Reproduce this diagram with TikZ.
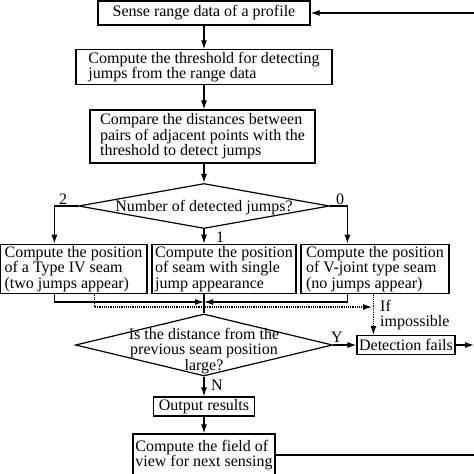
\documentclass[tikz,border=0pt]{standalone}
\usepackage{fontspec}
\setmainfont{Liberation Serif}
\usetikzlibrary{shapes,arrows.meta}
\newcommand{\flowfont}{\fontsize{16}{15.5}\selectfont}
\tikzset{
  proc/.style = {draw, line width=1.2pt, align=left, inner sep=2pt, font=\flowfont},
  decide/.style = {draw, diamond, line width=1.2pt, inner sep=0pt},
  flow/.style = {-{Latex[length=9pt,width=6pt]}, line width=1.2pt},
  maybe/.style = {flow, densely dotted},
  lab/.style = {font=\flowfont, inner sep=0pt}
}

\begin{document}
\begin{tikzpicture}[x=1pt,y=-1pt]
\useasboundingbox (0,0) rectangle (474,474);
\clip (0,0) rectangle (474,474);

\node[proc, align=center, minimum width=212, minimum height=24] (sense) at (204,13) {Sense range data of a profile};
\node[proc, minimum width=256, minimum height=34] (thr) at (204,67) {Compute the threshold for detecting\\jumps from the range data};
\node[proc, minimum width=225, minimum height=53] (cmp) at (202.5,136.5) {Compare the distances between\\pairs of adjacent points with the\\threshold to detect jumps};
\node[decide, minimum width=251, minimum height=45,
      label={[font=\flowfont, yshift=-2pt]center:Number of detected jumps?}] (jumps) at (204,206) {};

\node[proc, minimum width=147, minimum height=48] (two) at (73.5,269) {Compute the position\\of a Type IV seam\\(two jumps appear)};
\node[proc, minimum width=144, minimum height=48] (one) at (224,269) {Compute the position\\of seam with single\\jump appearance};
\node[proc, minimum width=148, minimum height=48] (none) at (375,269) {Compute the position\\of V-joint type seam\\(no jumps appear)};

\node[decide, minimum width=257, minimum height=62,
      label={[font=\flowfont, align=center, yshift=-6pt]center:Is the distance from the\\previous seam position\\large?}] (dist) at (204,345) {};
\node[proc, minimum width=98, minimum height=19] (fail) at (406,345) {Detection fails};
\node[proc, minimum width=101, minimum height=19] (out) at (204,406.5) {Output results};
\node[proc, minimum width=142, minimum height=42] (field) at (204,455) {Compute the field of\\view for next sensing};

\coordinate (merge) at (204,302);
\coordinate (iff) at (372,307);
\coordinate (back) at (474,13);
\coordinate (exit) at (474,345);
\coordinate (loop) at (474,455);

\node[lab] (n2) at (63,199) {2};
\node[lab] (n0) at (340,199) {0};
\node[lab] (n1) at (220,237) {1};
\node[lab, anchor=west] (ifa) at (380,306) {If};
\node[lab, anchor=west] (ifb) at (380,323) {impossible};
\node[lab] (ny) at (337,337) {Y};
\node[lab] (nn) at (217,385) {N};

\draw[flow] (back) -- (sense.east);
\draw[flow] (sense) -- (thr);
\draw[flow] (thr) -- (cmp.north -| thr.south);
\draw[flow] (cmp.south -| jumps.north) -- (jumps.north);
\draw[flow] (jumps.west) -| ([xshift=55pt]two.north west);
\draw[flow] (jumps.east) -| ([xshift=47pt]none.north west);
\draw[flow] (jumps.south) -- (one.north -| jumps.south);
\draw[flow] ([xshift=55pt]two.south west) |- (merge);
\draw[flow] ([xshift=47pt]none.south west) |- (merge);
\draw[line width=1.2pt] (one.south -| merge) -- (merge) -- (dist.north);
\draw[maybe] ([xshift=95pt]two.south west) |- (iff);
\draw[maybe] ([xshift=73pt]none.south west) -- ([xshift=17pt]fail.north west);
\draw[flow] (dist.east) -- (fail.west);
\draw[flow] (fail.east) -- (exit);
\draw[flow] (dist.south) -- (out.north);
\draw[flow] (out) -- (field);
\draw[line width=1.2pt] (field.east) -- (loop);

\end{tikzpicture}
\end{document}
